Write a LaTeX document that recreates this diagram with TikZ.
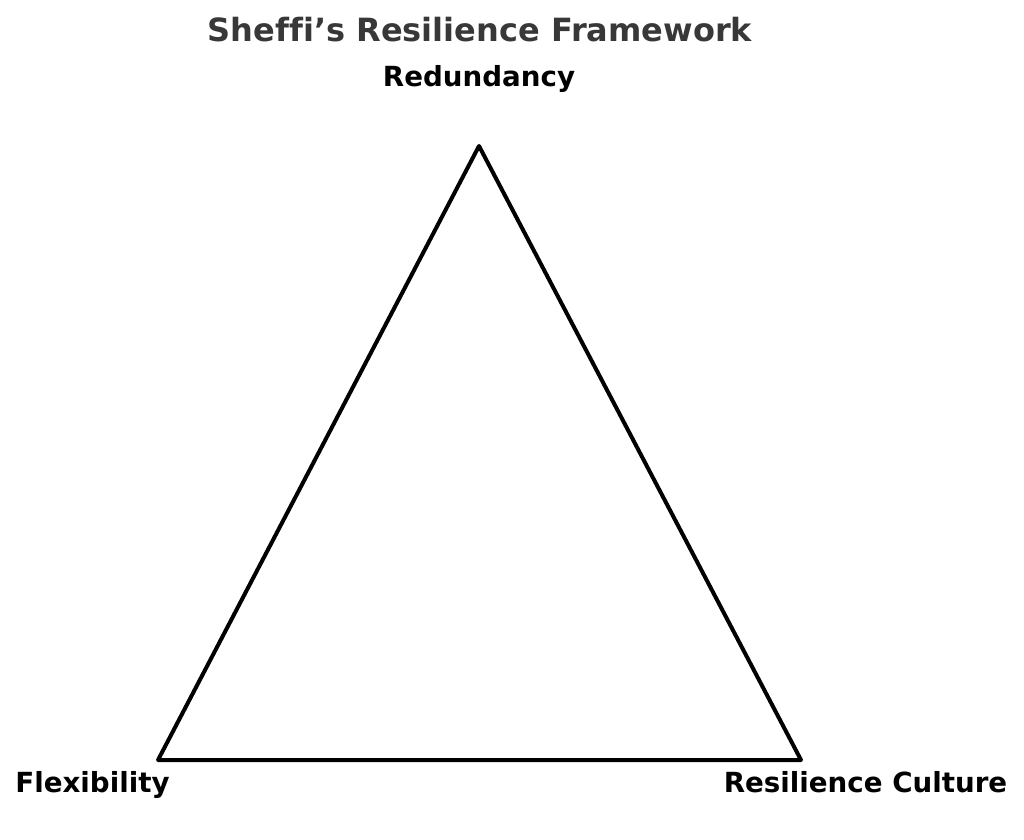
\documentclass[tikz,border=0pt]{standalone}
\usepackage{fontspec}
\setmainfont{DejaVu Sans}[Ligatures=NoCommon]
\definecolor{titlegray}{HTML}{383838}
\tikzset{
  vertexlabel/.style={font=\bfseries\fontsize{27.7}{32}\selectfont, text=black, inner sep=0pt},
  titlelabel/.style={font=\bfseries\fontsize{32}{38}\selectfont, text=titlegray, inner sep=0pt},
  frame/.style={line width=4pt, line join=round, draw=black}
}

\begin{document}
\begin{tikzpicture}[x=1pt, y=1pt]
    \useasboundingbox (0,0) rectangle (1024,839);
    % corners of the triangle
    \coordinate (red) at (479,693);
    \coordinate (flex) at (158,79);
    \coordinate (cult) at (801,79);
    \draw[frame] (red) -- (flex) -- (cult) -- cycle;
    % labels
    \node[titlelabel, anchor=base] (title) at (480,797) {Sheffi’s Resilience Framework};
    \node[vertexlabel, anchor=base] (redlabel) at ([yshift=59pt]red) {Redundancy};
    \node[vertexlabel, anchor=base] (flexlabel) at ([xshift=-65.5pt, yshift=-32pt]flex) {Flexibility};
    \node[vertexlabel, anchor=base] (cultlabel) at ([xshift=64.5pt, yshift=-32pt]cult) {Resilience Culture};
\end{tikzpicture}
\end{document}
